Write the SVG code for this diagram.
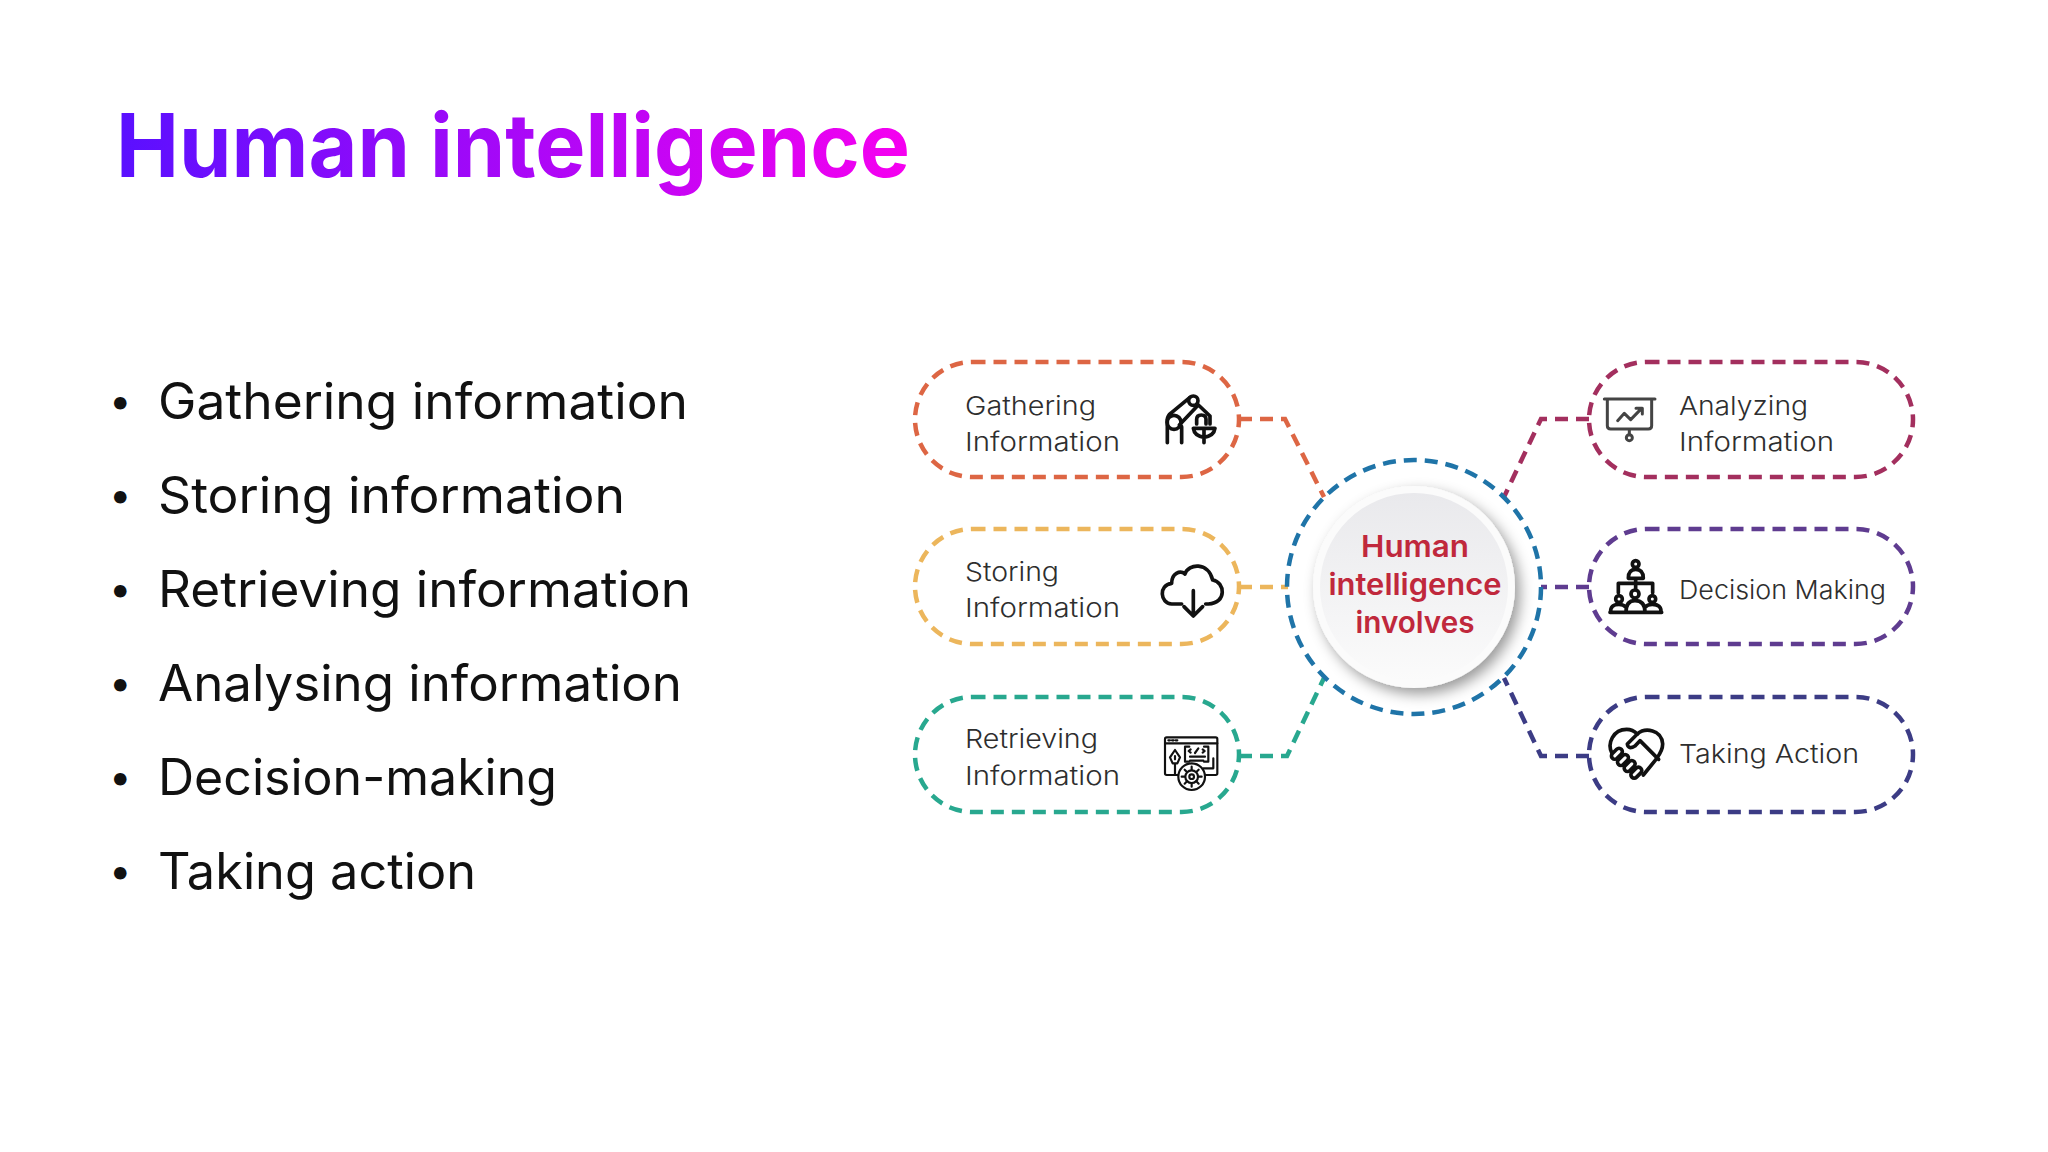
<svg xmlns="http://www.w3.org/2000/svg" width="2048" height="1152" viewBox="0 0 2048 1152">
<defs>
<linearGradient id="tg" gradientUnits="userSpaceOnUse" x1="118" y1="0" x2="908" y2="0"><stop offset="0" stop-color="#5a10ff"/><stop offset="1" stop-color="#f600f0"/></linearGradient>
<linearGradient id="hub" x1="0" y1="0" x2="0" y2="1"><stop offset="0" stop-color="#e9e9ec"/><stop offset="1" stop-color="#fbfbfb"/></linearGradient>
<filter id="sh" x="-30%" y="-30%" width="170%" height="170%"><feDropShadow dx="5" dy="6" stdDeviation="7" flood-color="#000" flood-opacity=".4"/></filter>
</defs>
<style>
text{font-family:Inter,"Liberation Sans",sans-serif}
.b{font-size:50px;fill:#111}
.u{font-size:40px;fill:#111}
.l{font-size:26px;font-weight:300;fill:#2e2e2e}
.c{font-size:30px;font-weight:600;fill:#c0283c;text-anchor:middle}
.d{fill:none;stroke-width:4.5;stroke-dasharray:13 8}
.i{fill:none;stroke:#111;stroke-width:11;stroke-linecap:round;stroke-linejoin:round}
.o{stroke:#dd6644}.y{stroke:#ecb65c}.t{stroke:#28a88f}.m{stroke:#a32f5e}.p{stroke:#5f3c90}.n{stroke:#3c3c85}
</style>
<rect width="2048" height="1152" fill="#fff"/>
<text id="title" x="116" y="177" font-size="88" font-weight="700" fill="url(#tg)" textLength="794" lengthAdjust="spacingAndGlyphs">Human intelligence</text>
<g id="bullets">
<text class="u" x="109" y="415">•</text><text class="b" x="158" y="419" textLength="530" lengthAdjust="spacingAndGlyphs">Gathering information</text>
<text class="u" x="109" y="509">•</text><text class="b" x="158" y="513" textLength="467" lengthAdjust="spacingAndGlyphs">Storing information</text>
<text class="u" x="109" y="603">•</text><text class="b" x="158" y="607" textLength="533" lengthAdjust="spacingAndGlyphs">Retrieving information</text>
<text class="u" x="109" y="697">•</text><text class="b" x="158" y="701" textLength="524" lengthAdjust="spacingAndGlyphs">Analysing information</text>
<text class="u" x="109" y="791">•</text><text class="b" x="158" y="795" textLength="399" lengthAdjust="spacingAndGlyphs">Decision-making</text>
<text class="u" x="109" y="885">•</text><text class="b" x="158" y="889" textLength="318" lengthAdjust="spacingAndGlyphs">Taking action</text>
</g>
<g id="connectors">
<path class="d o" d="M1239 419H1285L1324 497"/>
<path class="d y" d="M1239 587H1288"/>
<path class="d t" d="M1239 756H1287L1324 678"/>
<path class="d m" d="M1589 419H1541L1504 497"/>
<path class="d p" d="M1589 587H1541"/>
<path class="d n" d="M1589 756H1541L1504 678"/>
</g>
<g id="hub-node">
<circle class="d" cx="1414" cy="587" r="127" stroke="#1f74a8"/>
<circle cx="1414" cy="587" r="101" fill="#fbfbfb" filter="url(#sh)"/>
<circle cx="1414" cy="587" r="94" fill="url(#hub)"/>
<text class="c" x="1415" y="557" textLength="108" lengthAdjust="spacingAndGlyphs">Human</text>
<text class="c" x="1415" y="595" textLength="173" lengthAdjust="spacingAndGlyphs">intelligence</text>
<text class="c" x="1415" y="633" textLength="119" lengthAdjust="spacingAndGlyphs">involves</text>
</g>
<g id="gathering">
<rect class="d o" x="915" y="362" width="324" height="115" rx="57.5"/>
<text class="l" x="965" y="415" textLength="131" lengthAdjust="spacingAndGlyphs">Gathering</text>
<text class="l" x="965" y="451" textLength="155" lengthAdjust="spacingAndGlyphs">Information</text>
<g class="i" transform="translate(1140 380) scale(.3333)">
<path d="M82 188V118Q84 105 92 100L150 52M125 188V140M118 135L172 78"/>
<circle cx="102" cy="127" r="21"/><circle cx="160" cy="62" r="14"/>
<path d="M172 72L210 108V132M170 132V118Q170 105 184 105Q198 105 198 118V132"/>
<path d="M160 145H225Q222 168 192 172Q163 168 160 145ZM192 145V188"/>
</g>
</g>
<g id="storing">
<rect class="d y" x="915" y="529" width="324" height="115" rx="57.5"/>
<text class="l" x="965" y="581" textLength="94" lengthAdjust="spacingAndGlyphs">Storing</text>
<text class="l" x="965" y="617" textLength="155" lengthAdjust="spacingAndGlyphs">Information</text>
<g class="i" transform="translate(1140 550) scale(.3333)">
<path d="M125 162H95C60 160 55 105 95 100C95 70 120 60 135 72C145 40 205 35 218 90C255 95 262 160 205 162H197"/>
<path d="M160 122V196M132 170L160 198L188 170"/>
</g>
</g>
<g id="retrieving">
<rect class="d t" x="915" y="697" width="324" height="115" rx="57.5"/>
<text class="l" x="965" y="748" textLength="133" lengthAdjust="spacingAndGlyphs">Retrieving</text>
<text class="l" x="965" y="785" textLength="155" lengthAdjust="spacingAndGlyphs">Information</text>
<g class="i" style="stroke-width:6.5" transform="translate(1140 720) scale(.3333)">
<rect x="75" y="52" width="157" height="113" rx="5"/>
<path d="M75 70H232M85 61H90M96 61H101M107 61H112"/>
<path d="M148 80H135V125H148M192 80H205V125H192M152 88L146 93L152 98M188 88L194 93L188 98M165 99L175 85M150 110H195M150 122H190"/>
<path d="M105 90L120 112L112 130H98L90 112ZM105 130V165M105 108V118"/>
<path d="M220 115V145H190"/>
<circle cx="155" cy="170" r="40" fill="#fff"/>
<circle cx="155" cy="170" r="19"/><circle cx="155" cy="170" r="7"/>
<path d="M155 140V150M155 190V200M125 170H135M175 170H185M134 149L141 156M169 184L176 191M176 149L169 156M141 184L134 191"/>
</g>
</g>
<g id="analyzing">
<rect class="d m" x="1589" y="362" width="324" height="115" rx="57.5"/>
<text class="l" x="1679" y="415" textLength="129" lengthAdjust="spacingAndGlyphs">Analyzing</text>
<text class="l" x="1679" y="451" textLength="155" lengthAdjust="spacingAndGlyphs">Information</text>
<g class="i" style="stroke:#444;stroke-width:9" transform="translate(1590 379) scale(.3333)">
<path d="M43 60H195M52 62V140Q52 150 62 150H175Q185 150 185 140V62M118 150V167"/>
<circle cx="118" cy="176" r="9"/>
<path d="M83 125L103 103L122 122L155 88M138 88H157V105"/>
</g>
</g>
<g id="decision">
<rect class="d p" x="1589" y="529" width="324" height="115" rx="57.5"/>
<text class="l" x="1679" y="599" textLength="207" lengthAdjust="spacingAndGlyphs">Decision Making</text>
<g class="i" transform="translate(1590 550) scale(.3333)">
<circle cx="137" cy="42" r="10"/>
<path d="M115 85Q115 58 137 58Q160 58 160 85ZM137 85V118M85 128V100H188V128"/>
<circle cx="135" cy="132" r="12"/><circle cx="87" cy="147" r="10"/><circle cx="187" cy="147" r="10"/>
<path d="M108 187Q108 152 135 152Q165 152 165 187M62 187Q60 163 87 163Q100 163 108 172M213 187Q215 163 187 163Q172 163 165 172M60 187H215"/>
</g>
</g>
<g id="taking">
<rect class="d n" x="1589" y="697" width="324" height="115" rx="57.5"/>
<text class="l" x="1679" y="763" textLength="180" lengthAdjust="spacingAndGlyphs">Taking Action</text>
<g class="i" transform="translate(1590 720) scale(.3333)">
<path d="M66 100C50 70 70 28 110 28C125 28 135 35 142 42C165 22 215 28 218 72C218 95 205 108 195 122L160 165"/>
<path d="M142 42L112 72Q115 90 135 78L150 62L206 118"/>
<rect x="62" y="92" width="38" height="20" rx="10" transform="rotate(-45 80 102)" fill="#fff"/>
<rect x="80" y="110" width="38" height="20" rx="10" transform="rotate(-45 99 120)" fill="#fff"/>
<rect x="100" y="128" width="38" height="20" rx="10" transform="rotate(-45 119 138)" fill="#fff"/>
<rect x="120" y="148" width="38" height="20" rx="10" transform="rotate(-45 139 158)" fill="#fff"/>
</g>
</g>
</svg>
